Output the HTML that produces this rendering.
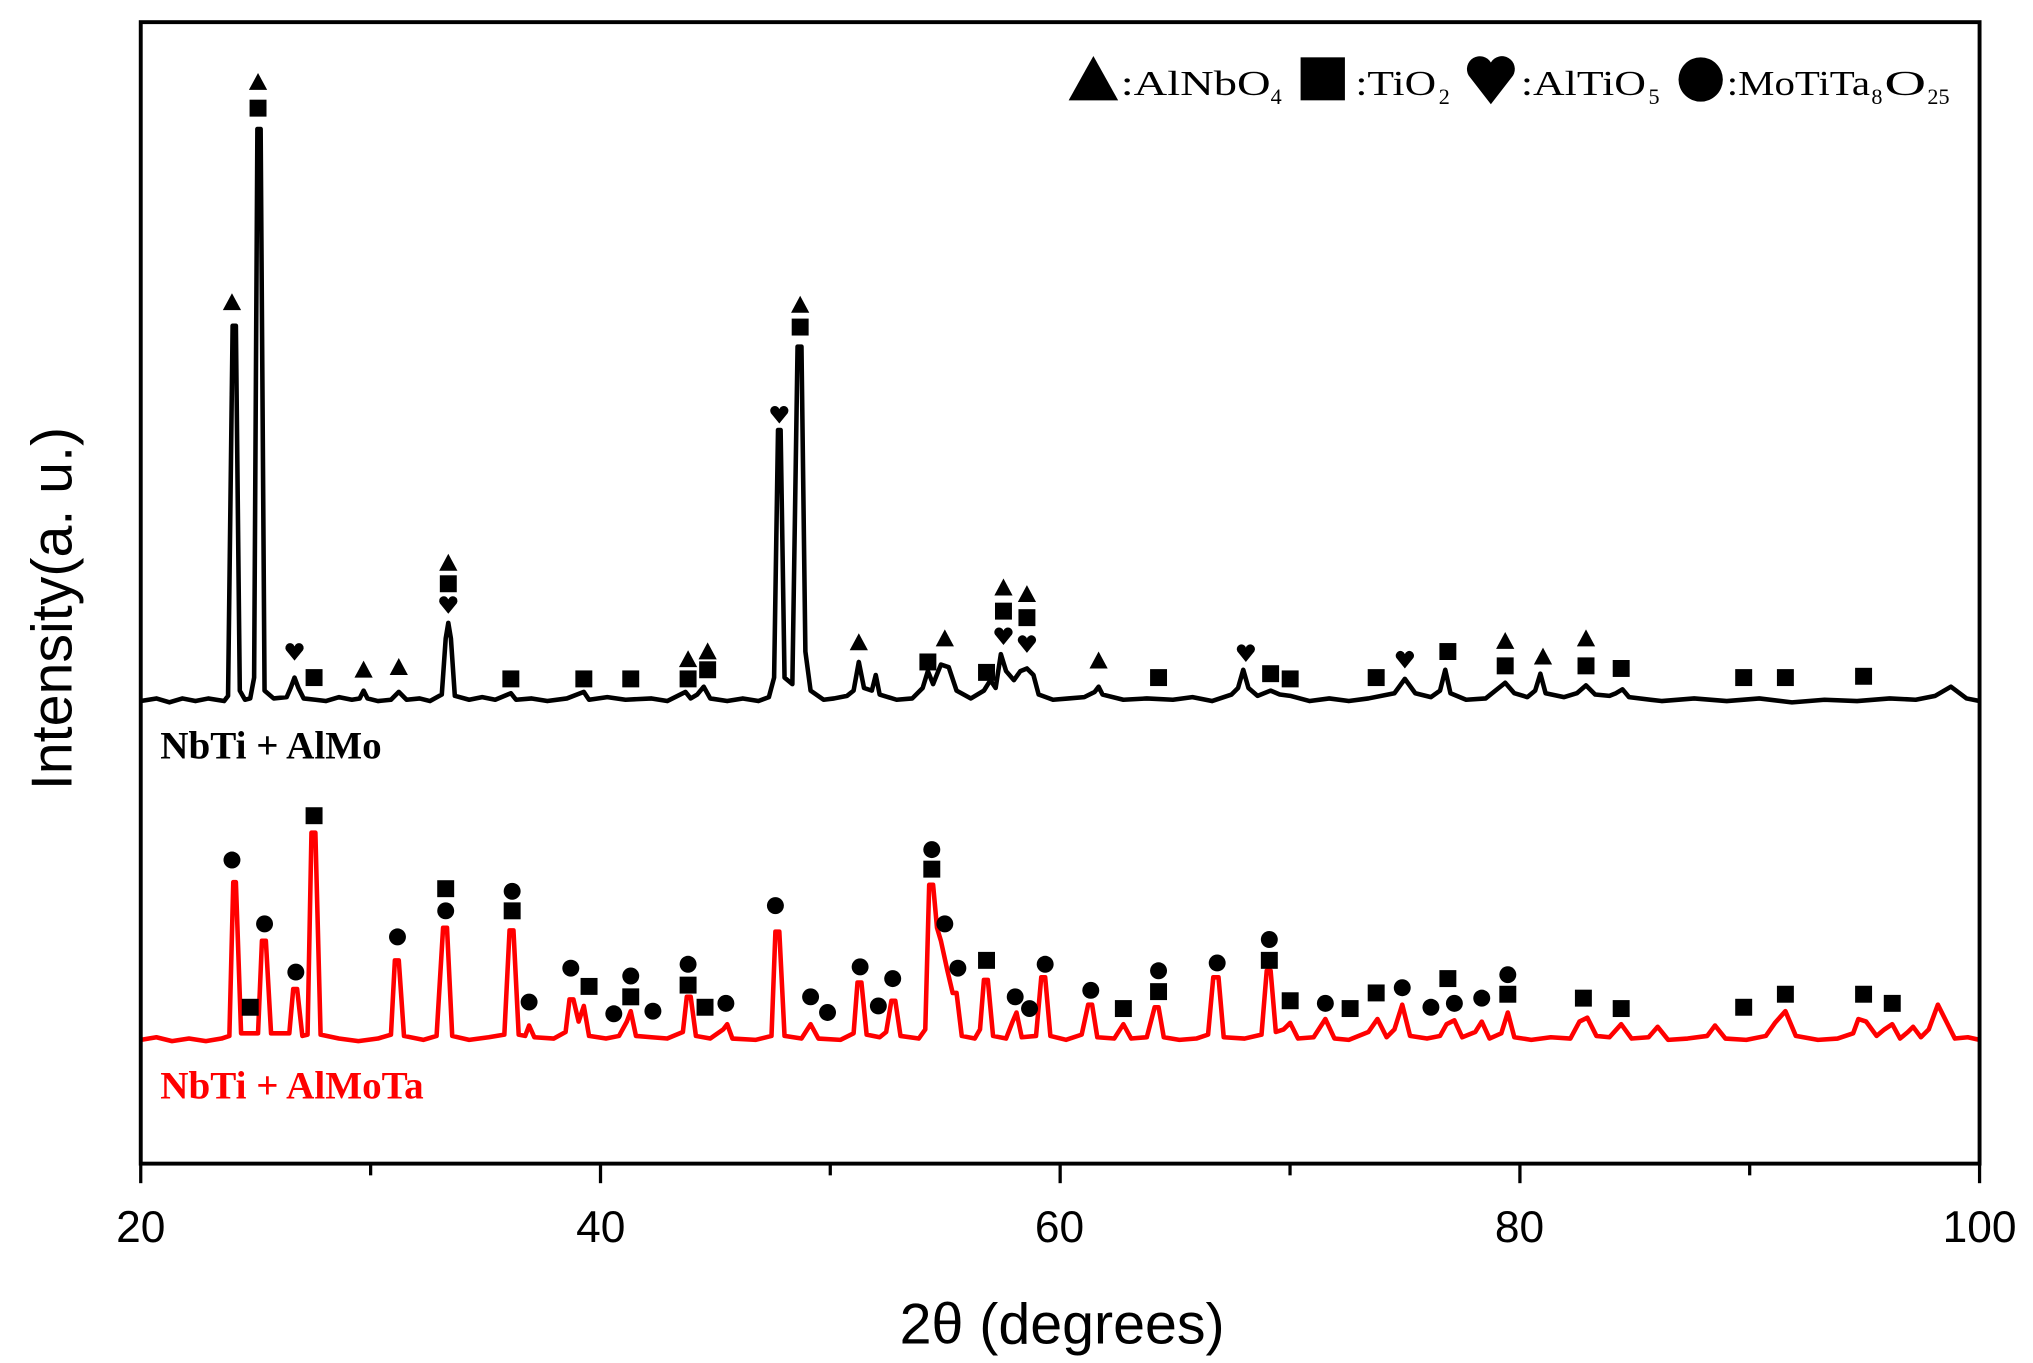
<!DOCTYPE html>
<html><head><meta charset="utf-8"><style>html,body{margin:0;padding:0;background:#fff}svg{display:block}</style></head>
<body>
<svg width="2033" height="1363" viewBox="0 0 1560 1046" preserveAspectRatio="none" xmlns="http://www.w3.org/2000/svg">
<rect x="0" y="0" width="1560" height="1046" fill="#fff"/>
<path fill="none" stroke="#000" stroke-width="3.5" stroke-linejoin="round" d="M108,538 L120,536 L130,539 L140,536 L150,538 L160,536 L172,538 L175,534 L178.5,250 L181,250 L184,530 L188,537 L192,536 L195,520 L197.5,99 L200,99 L203,530 L210,536 L220,535 L223,528 L226,520 L229,528 L233,536 L242,537 L250,538 L260,535 L270,537 L276,536 L279,530 L282,536 L290,538 L300,537 L306,531 L312,537 L322,536 L330,538 L339,533 L342,490 L344,478 L346,490 L349,534 L360,537 L370,535 L380,537 L392,532 L396,537 L408,536 L420,538 L435,536 L448,531 L452,537 L466,535 L480,537 L500,536 L512,538 L526,531 L530,536 L535,533 L540,527 L545,536 L558,538 L570,536 L582,538 L590,535 L594,520 L597,330 L599,330 L602,520 L608,525 L612,266 L615,266 L618,500 L622,530 L632,537 L640,536 L650,534 L655,530 L659,508 L663,528 L669,530 L672,518 L675,533 L688,537 L700,536 L708,528 L712,515 L716,525 L722,510 L728,512 L734,530 L745,536 L755,530 L760,522 L764,528 L768,502 L772,515 L778,522 L783,515 L788,513 L793,518 L797,533 L808,537 L820,536 L832,535 L840,531 L843,527 L846,533 L862,537 L880,536 L900,537 L915,535 L930,538 L945,533 L950,528 L954,514 L958,528 L965,534 L975,530 L982,533 L990,534 L1005,538 L1020,536 L1035,538 L1050,536 L1070,532 L1078,521 L1086,532 L1098,535 L1105,530 L1109,514 L1113,532 L1125,537 L1140,536 L1150,528 L1155,524 L1162,532 L1172,535 L1178,530 L1182,517 L1186,532 L1200,535 L1210,532 L1217,526 L1224,533 L1235,534 L1240,532 L1245,529 L1250,535 L1275,538 L1300,536 L1325,538 L1350,536 L1375,539 L1400,537 L1425,538 L1450,536 L1470,537 L1485,534 L1497,527 L1509,536 L1519,538"/>
<path fill="none" stroke="#f00" stroke-width="3.5" stroke-linejoin="round" d="M108,798 L120,796 L132,799 L145,797 L158,799 L170,797 L176,795 L179,677 L181,677 L185,793 L198,793 L201,722 L204,722 L208,793 L222,793 L225,759 L228,759 L232,795 L236,794 L239,639 L242,639 L246,794 L260,797 L275,799 L290,797 L300,794 L303,737 L306,737 L310,795 L325,798 L335,795 L340,712 L343,712 L347,795 L360,798 L375,796 L387,794 L391,714 L394,714 L398,794 L403,795 L406,787 L410,796 L425,797 L434,792 L437,767 L440,767 L444,784 L448,772 L452,795 L465,797 L475,795 L481,784 L484,776 L488,795 L500,796 L512,797 L524,792 L527,765 L530,765 L534,795 L545,797 L555,790 L558,786 L562,797 L580,798 L592,795 L595,715 L598,715 L602,795 L615,797 L622,786 L628,797 L645,798 L655,793 L658,754 L661,754 L665,794 L675,796 L680,792 L684,768 L687,768 L691,795 L705,797 L710,790 L713,679 L716,679 L719,712 L722,722 L727,745 L731,762 L734,762 L738,795 L748,797 L752,790 L755,752 L758,752 L762,795 L772,797 L777,784 L780,777 L784,796 L795,795 L799,750 L802,750 L806,795 L818,798 L830,794 L835,771 L838,771 L842,796 L855,797 L862,786 L868,797 L880,796 L886,773 L889,773 L893,796 L905,798 L918,797 L927,794 L931,750 L935,750 L939,796 L955,797 L968,794 L972,745 L975,745 L979,792 L985,790 L990,785 L996,797 L1008,796 L1017,782 L1024,797 L1035,798 L1050,792 L1057,782 L1064,796 L1070,790 L1076,771 L1082,795 L1095,797 L1105,795 L1110,786 L1116,783 L1122,796 L1132,792 L1137,784 L1143,797 L1152,793 L1157,777 L1162,796 L1175,798 L1190,796 L1205,797 L1212,784 L1218,781 L1225,795 L1235,796 L1244,786 L1252,797 L1265,796 L1272,788 L1280,798 L1295,797 L1310,795 L1316,787 L1324,797 L1340,798 L1355,795 L1362,785 L1370,776 L1378,795 L1395,798 L1410,797 L1422,793 L1426,782 L1432,784 L1440,795 L1446,790 L1452,786 L1458,797 L1464,792 L1468,788 L1474,796 L1480,790 L1487,771 L1494,785 L1500,797 L1510,796 L1519,798"/>
<g fill="#000">
<polygon points="171,238 185,238 178,225"/><polygon points="191,69 205,69 198,56"/><rect x="191.5" y="76.5" width="13" height="13"/>
<path d="M226,507 L219.5,499 A3.6,3.6 0 1 1 226,496 A3.6,3.6 0 1 1 232.5,499 Z"/>
<rect x="234.5" y="513.5" width="13" height="13"/>
<polygon points="272,520 286,520 279,507"/><polygon points="299,518 313,518 306,505"/>
<polygon points="337,438 351,438 344,425"/><rect x="337.5" y="441.5" width="13" height="13"/>
<path d="M344,471 L337.5,463 A3.6,3.6 0 1 1 344,460 A3.6,3.6 0 1 1 350.5,463 Z"/>
<rect x="385.5" y="514.5" width="13" height="13"/><rect x="441.5" y="514.5" width="13" height="13"/><rect x="477.5" y="514.5" width="13" height="13"/>
<polygon points="521,512 535,512 528,499"/><rect x="521.5" y="514.5" width="13" height="13"/>
<polygon points="536,506 550,506 543,493"/><rect x="536.5" y="507.5" width="13" height="13"/>
<path d="M598,325 L591.5,317 A3.6,3.6 0 1 1 598,314 A3.6,3.6 0 1 1 604.5,317 Z"/>
<polygon points="607,240 621,240 614,227"/><rect x="607.5" y="244.5" width="13" height="13"/>
<polygon points="652,499 666,499 659,486"/><rect x="705.5" y="501.5" width="13" height="13"/>
<polygon points="718,496 732,496 725,483"/><rect x="750.5" y="509.5" width="13" height="13"/>
<polygon points="763,457 777,457 770,444"/><rect x="763.5" y="462.5" width="13" height="13"/>
<path d="M770,495 L763.5,487 A3.6,3.6 0 1 1 770,484 A3.6,3.6 0 1 1 776.5,487 Z"/>
<polygon points="781,462 795,462 788,449"/><rect x="781.5" y="467.5" width="13" height="13"/>
<path d="M788,501 L781.5,493 A3.6,3.6 0 1 1 788,490 A3.6,3.6 0 1 1 794.5,493 Z"/>
<polygon points="836,513 850,513 843,500"/><rect x="882.5" y="513.5" width="13" height="13"/>
<path d="M956,508 L949.5,500 A3.6,3.6 0 1 1 956,497 A3.6,3.6 0 1 1 962.5,500 Z"/>
<rect x="968.5" y="510.5" width="13" height="13"/><rect x="983.5" y="514.5" width="13" height="13"/><rect x="1049.5" y="513.5" width="13" height="13"/>
<path d="M1078,513 L1071.5,505 A3.6,3.6 0 1 1 1078,502 A3.6,3.6 0 1 1 1084.5,505 Z"/>
<rect x="1104.5" y="493.5" width="13" height="13"/>
<polygon points="1148,498 1162,498 1155,485"/><rect x="1148.5" y="504.5" width="13" height="13"/>
<polygon points="1177,510 1191,510 1184,497"/>
<polygon points="1210,496 1224,496 1217,483"/><rect x="1210.5" y="504.5" width="13" height="13"/>
<rect x="1237.5" y="506.5" width="13" height="13"/><rect x="1331.5" y="513.5" width="13" height="13"/><rect x="1363.5" y="513.5" width="13" height="13"/><rect x="1423.5" y="512.5" width="13" height="13"/>
<!-- red markers -->
<circle cx="178" cy="660" r="6.5"/><rect x="185.5" y="766.5" width="13" height="13"/><circle cx="203" cy="709" r="6.5"/><circle cx="227" cy="746" r="6.5"/>
<rect x="234.5" y="619.5" width="13" height="13"/><circle cx="305" cy="719" r="6.5"/><rect x="335.5" y="675.5" width="13" height="13"/><circle cx="342" cy="699" r="6.5"/>
<circle cx="393" cy="684" r="6.5"/><rect x="386.5" y="692.5" width="13" height="13"/><circle cx="406" cy="769" r="6.5"/><circle cx="438" cy="743" r="6.5"/>
<rect x="445.5" y="750.5" width="13" height="13"/><circle cx="471" cy="778" r="6.5"/><circle cx="484" cy="749" r="6.5"/><rect x="477.5" y="758.5" width="13" height="13"/>
<circle cx="501" cy="776" r="6.5"/><circle cx="528" cy="740" r="6.5"/><rect x="521.5" y="749.5" width="13" height="13"/><rect x="534.5" y="766.5" width="13" height="13"/>
<circle cx="557" cy="770" r="6.5"/><circle cx="595" cy="695" r="6.5"/><circle cx="622" cy="765" r="6.5"/><circle cx="635" cy="777" r="6.5"/>
<circle cx="660" cy="742" r="6.5"/><circle cx="674" cy="772" r="6.5"/><circle cx="685" cy="751" r="6.5"/><circle cx="715" cy="652" r="6.5"/>
<rect x="708.5" y="660.5" width="13" height="13"/><circle cx="725" cy="709" r="6.5"/><circle cx="735" cy="743" r="6.5"/><rect x="750.5" y="730.5" width="13" height="13"/>
<circle cx="779" cy="765" r="6.5"/><circle cx="790" cy="774" r="6.5"/><circle cx="802" cy="740" r="6.5"/><circle cx="837" cy="760" r="6.5"/>
<rect x="855.5" y="767.5" width="13" height="13"/><circle cx="889" cy="745" r="6.5"/><rect x="882.5" y="754.5" width="13" height="13"/><circle cx="934" cy="739" r="6.5"/>
<circle cx="974" cy="721" r="6.5"/><rect x="967.5" y="730.5" width="13" height="13"/><rect x="983.5" y="761.5" width="13" height="13"/><circle cx="1017" cy="770" r="6.5"/>
<rect x="1029.5" y="767.5" width="13" height="13"/><rect x="1049.5" y="755.5" width="13" height="13"/><circle cx="1076" cy="758" r="6.5"/><circle cx="1098" cy="773" r="6.5"/>
<rect x="1104.5" y="744.5" width="13" height="13"/><circle cx="1116" cy="770" r="6.5"/><circle cx="1137" cy="766" r="6.5"/><circle cx="1157" cy="748" r="6.5"/>
<rect x="1150.5" y="756.5" width="13" height="13"/><rect x="1208.5" y="759.5" width="13" height="13"/><rect x="1237.5" y="767.5" width="13" height="13"/><rect x="1331.5" y="766.5" width="13" height="13"/>
<rect x="1363.5" y="756.5" width="13" height="13"/><rect x="1423.5" y="756.5" width="13" height="13"/><rect x="1445.5" y="763.5" width="13" height="13"/>
</g>
<rect x="108" y="17" width="1411" height="876" fill="none" stroke="#000" stroke-width="3"/>
<g stroke="#000" stroke-width="2.5">
<line x1="108" y1="893" x2="108" y2="908"/><line x1="284.4" y1="893" x2="284.4" y2="902"/><line x1="460.8" y1="893" x2="460.8" y2="908"/><line x1="637.1" y1="893" x2="637.1" y2="902"/><line x1="813.5" y1="893" x2="813.5" y2="908"/><line x1="989.9" y1="893" x2="989.9" y2="902"/><line x1="1166.3" y1="893" x2="1166.3" y2="908"/><line x1="1342.6" y1="893" x2="1342.6" y2="902"/><line x1="1519" y1="893" x2="1519" y2="908"/>
</g>
<g font-family="Liberation Sans, sans-serif" font-size="34" text-anchor="middle" fill="#000">
<text x="108" y="953">20</text><text x="461" y="953">40</text><text x="813" y="953">60</text><text x="1166" y="953">80</text><text x="1519" y="953">100</text>
</g>
<text x="815" y="1031" font-family="Liberation Sans, sans-serif" font-size="44" text-anchor="middle">2θ (degrees)</text>
<text transform="translate(55,467) rotate(-90)" font-family="Liberation Sans, sans-serif" font-size="44" text-anchor="middle">Intensity(a. u.)</text>
<text x="123" y="582" font-family="Liberation Serif, serif" font-weight="bold" font-size="30">NbTi + AlMo</text>
<text x="123" y="843" font-family="Liberation Serif, serif" font-weight="bold" font-size="30" fill="#f00">NbTi + AlMoTa</text>
<g font-family="Liberation Serif, serif" font-size="27" fill="#000">
<polygon points="820,77 858,77 839,43"/>
<text x="860" y="73" textLength="115" lengthAdjust="spacingAndGlyphs">:AlNbO</text><text x="975" y="80" font-size="17">4</text>
<rect x="998" y="44" width="34" height="33"/>
<text x="1040" y="73" textLength="62" lengthAdjust="spacingAndGlyphs">:TiO</text><text x="1104" y="80" font-size="17">2</text>
<path d="M1144,80 L1127,58 A9.5,9.5 0 1 1 1144,48 A9.5,9.5 0 1 1 1161,58 Z"/>
<text x="1167" y="73" textLength="96" lengthAdjust="spacingAndGlyphs">:AlTiO</text><text x="1265" y="80" font-size="17">5</text>
<ellipse cx="1305" cy="61" rx="17" ry="17"/>
<text x="1325" y="73" textLength="110" lengthAdjust="spacingAndGlyphs">:MoTiTa</text><text x="1436" y="80" font-size="17">8</text>
<text x="1446" y="73" textLength="32" lengthAdjust="spacingAndGlyphs">O</text><text x="1479" y="80" font-size="17">25</text>
</g>
</svg>
</body></html>
